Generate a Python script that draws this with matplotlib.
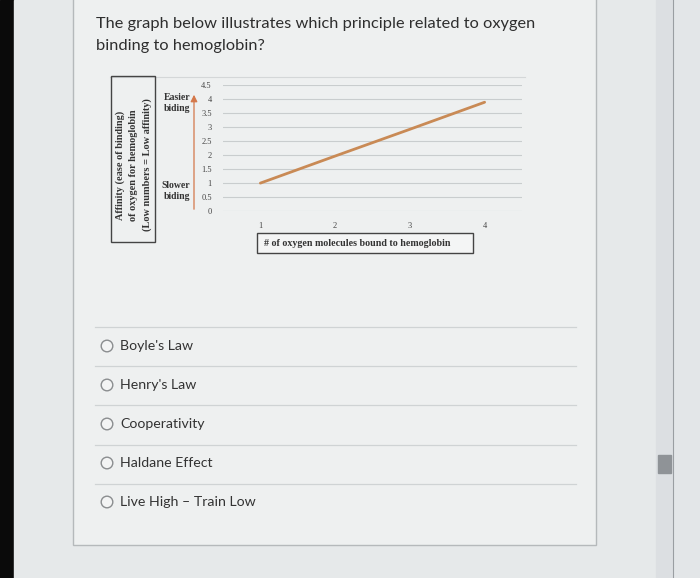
import matplotlib
matplotlib.use("Agg")
import matplotlib.pyplot as plt
from matplotlib.patches import Rectangle, Circle, FancyArrowPatch

# ---- data ----
question_lines = ["The graph below illustrates which principle related to oxygen",
                  "binding to hemoglobin?"]
x_values = [1, 2, 3, 4]
affinity = [1.0, 1.97, 2.93, 3.9]
y_ticks = [0, 0.5, 1, 1.5, 2, 2.5, 3, 3.5, 4, 4.5]
y_tick_labels = ["0", "0.5", "1", "1.5", "2", "2.5", "3", "3.5", "4", "4.5"]
x_tick_labels = ["1", "2", "3", "4"]
x_label = "# of oxygen molecules bound to hemoglobin"
y_label = "Affinity (ease of binding)\nof oxygen for hemoglobin\n(Low numbers = Low affinity)"
high_note = "Easier\nbiding"
low_note = "Slower\nbiding"
options = ["Boyle's Law", "Henry's Law", "Cooperativity", "Haldane Effect",
           "Live High \u2013 Train Low"]

W, H = 700, 578
fig = plt.figure(figsize=(W / 100, H / 100), dpi=100)
fig.patch.set_facecolor("#e7eaeb")

bg = fig.add_axes([0, 0, 1, 1])
bg.set_xlim(0, W)
bg.set_ylim(H, 0)
bg.axis("off")

# screen areas
bg.add_patch(Rectangle((0, 0), 14, H, color="#0a0a0a", zorder=1))
bg.add_patch(Rectangle((14, 0), 642, H, color="#e6e9ea", zorder=1))
bg.add_patch(Rectangle((73, -5), 523, 550, facecolor="#eef0f0", edgecolor="#b5b9bb", lw=1, zorder=2))
bg.add_patch(Rectangle((656, 0), 17, H, color="#dcdfe2", zorder=1))
bg.add_patch(Rectangle((673, 0), 27, H, color="#e3e6e8", zorder=1))
bg.plot([673, 673], [0, H], color="#9a9ea2", lw=0.8, zorder=2)
bg.add_patch(Rectangle((658, 455), 13, 18, color="#8f9397", zorder=3))

# question text
sans = ["Lato", "DejaVu Sans"]
bg.text(96, 28, question_lines[0], fontsize=11.75, family=sans, color="#2e2e2e", va="baseline", zorder=5)
bg.text(96, 50, question_lines[1], fontsize=11.75, family=sans, color="#2e2e2e", va="baseline", zorder=5)

# chart image frame (faint)
bg.plot([110, 525], [77, 77], color="#d4d7d8", lw=0.8, zorder=3)

# y label box
bg.add_patch(Rectangle((111, 76), 44, 166, facecolor="none", edgecolor="#444444", lw=1, zorder=4))
bg.text(133.5, 165, y_label, rotation=90, ha="center", va="center", fontsize=7.4,
        family="Liberation Serif", fontweight="bold", color="#333333", linespacing=1.55, zorder=5)

# notes
bg.text(190, 103, high_note, ha="right", va="center", fontsize=7.0, family="Liberation Serif",
        fontweight="bold", color="#333333", linespacing=1.35, zorder=5)
bg.text(190, 191, low_note, ha="right", va="center", fontsize=7.0, family="Liberation Serif",
        fontweight="bold", color="#333333", linespacing=1.35, zorder=5)
bg.add_patch(FancyArrowPatch((194, 212), (194, 92), arrowstyle="-|>,head_length=4,head_width=2",
                             color="#d4784a", lw=0.9, zorder=5))

# x label box
bg.add_patch(Rectangle((257, 233), 216, 20, facecolor="#f4f5f5", edgecolor="#444444", lw=1, zorder=4))
bg.text(264, 243.5, x_label, ha="left", va="center", fontsize=7.2, family="Liberation Serif",
        fontweight="bold", color="#333333", zorder=5)

# answer options
row_y = [346, 385, 424, 463, 502]
for ly in [327, 366, 405, 445, 484]:
    bg.plot([95, 576], [ly, ly], color="#cfd3d4", lw=0.9, zorder=3)
for yy, opt in zip(row_y, options):
    bg.add_patch(Circle((107, yy), 5.8, facecolor="#f3f4f4", edgecolor="#8a8d8f", lw=1, zorder=4))
    bg.text(120, yy, opt, ha="left", va="center", fontsize=10.2, family=sans,
            color="#333333", zorder=5)

# chart axes
L, R, T, B = 223, 522, 85.5, 211
ax = fig.add_axes([L / W, 1 - B / H, (R - L) / W, (B - T) / H])
ax.set_facecolor("none")
ax.plot(x_values, affinity, color="#c98a55", lw=2.0, solid_capstyle="round", zorder=3)
ax.set_xlim(0.5, 4.5)
ax.set_ylim(0, 4.5)
ax.set_yticks(y_ticks)
ax.set_yticklabels(y_tick_labels)
ax.set_xticks(x_values)
ax.set_xticklabels(x_tick_labels)
ax.grid(axis="y", color="#c9cdce", lw=0.8)
ax.set_axisbelow(True)
for s in ax.spines.values():
    s.set_visible(False)
ax.tick_params(axis="both", length=0, labelsize=6.0, labelcolor="#444444")
ax.tick_params(axis="y", pad=8)
ax.tick_params(axis="x", pad=8)
for lab in ax.get_xticklabels() + ax.get_yticklabels():
    lab.set_family("Liberation Serif")

fig.savefig("out.png", dpi=100, facecolor=fig.get_facecolor())
